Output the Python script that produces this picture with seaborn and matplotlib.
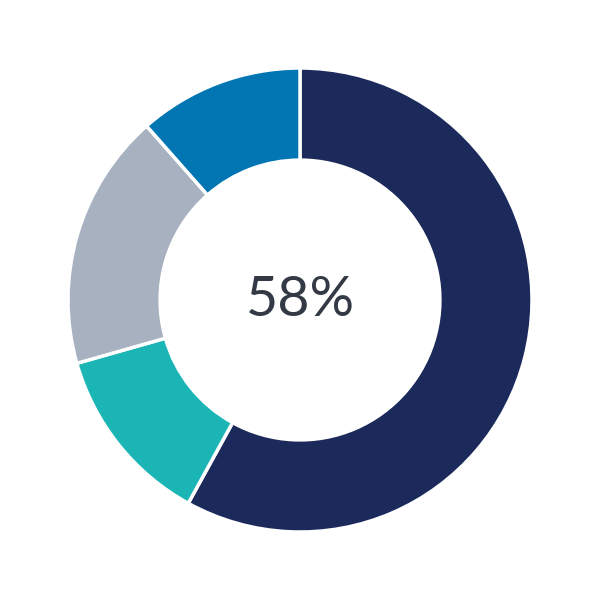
import matplotlib
matplotlib.use("Agg")
import matplotlib.pyplot as plt
import seaborn as sns

# Datos del gráfico de anillo
categorias = ["Segmento A", "Segmento B", "Segmento C", "Segmento D"]
valores = [58, 12.6, 17.9, 11.5]
colores = ["#1b2a5a", "#1bb5b5", "#a7b1bf", "#0275b3"]
etiqueta_central = "58%"

sns.set_theme(style="white")
plt.rcParams["font.family"] = ["Lato", "DejaVu Sans"]

fig = plt.figure(figsize=(6, 6), dpi=100)
ax = fig.add_axes([0, 0, 1, 1])

ax.pie(valores, colors=colores, startangle=90, counterclock=False,
       wedgeprops=dict(width=0.397, edgecolor="white", linewidth=2.5))

ax.text(0, 0, etiqueta_central, ha="center", va="center",
        fontsize=40, color="#333a45")

lim = 300 / 232
ax.set_xlim(-lim, lim)
ax.set_ylim(-lim, lim)
ax.set_aspect("equal")
ax.axis("off")

fig.savefig("out.png", dpi=100, facecolor="white")
